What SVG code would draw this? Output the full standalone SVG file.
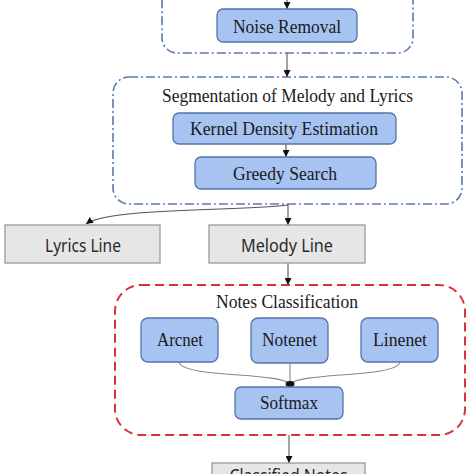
<svg xmlns="http://www.w3.org/2000/svg" width="474" height="474" viewBox="0 0 474 474">
<defs>
<style>
.cb{fill:none;stroke:#5b79ad;stroke-width:1.6;stroke-dasharray:9 3 2 3}
.cr{fill:none;stroke:#d9323f;stroke-width:2;stroke-dasharray:9 5}
.bb{fill:#a7c3f2;stroke:#5673a6;stroke-width:1.3}
.gb{fill:#e6e6e6;stroke:#9a9a9a;stroke-width:1.3}
.st{font-family:"Liberation Serif","Times New Roman",serif;font-size:19.5px;fill:#1a1a1a;text-anchor:middle}
.ss{font-family:"Noto Sans","Liberation Sans",sans-serif;font-size:18px;fill:#2a2a2a;text-anchor:middle}
.ln{fill:none;stroke:#555;stroke-width:1.1}
.lg{fill:none;stroke:#888;stroke-width:1.1}
</style>
<marker id="ah" viewBox="0 0 10 10" refX="10" refY="5" markerWidth="7" markerHeight="7" orient="auto" markerUnits="userSpaceOnUse">
<path d="M0,0 L10,5 L0,10 z" fill="#111"/>
</marker>
</defs>

<g id="containers">
<rect id="preprocess" class="cb" x="162" y="-30" width="251" height="83" rx="15"/>
<rect id="segmentation" class="cb" x="113" y="77" width="349" height="127" rx="16"/>
<rect id="notes-classification" class="cr" x="115" y="285" width="350" height="150" rx="26"/>
</g>

<g id="connectors">
<path class="ln" d="M287,0 V9" marker-end="url(#ah)"/>
<path class="ln" d="M287,53 V77" marker-end="url(#ah)"/>
<path class="ln" d="M286,144 V157" marker-end="url(#ah)"/>
<path class="ln" d="M288,204 V225" marker-end="url(#ah)"/>
<path class="ln" d="M288,205 C250,211 110,207 86,224" marker-end="url(#ah)"/>
<path class="ln" d="M288,263 V285" marker-end="url(#ah)"/>
<path class="lg" d="M179,362 C182,378 280,372 290,384"/>
<path class="lg" d="M290,363 V384"/>
<path class="lg" d="M400,362 C397,378 300,372 290,384"/>
<ellipse cx="290" cy="384" rx="4.5" ry="3" fill="#111"/>
<path class="ln" d="M289,435 V463" marker-end="url(#ah)"/>
</g>

<g id="noise-removal">
<rect class="bb" x="217" y="9" width="140" height="33" rx="6"/>
<text class="st" x="287" y="33" textLength="108" lengthAdjust="spacingAndGlyphs">Noise Removal</text>
</g>

<g id="segmentation-title">
<text class="st" x="287.5" y="102" textLength="251" lengthAdjust="spacingAndGlyphs">Segmentation of Melody and Lyrics</text>
</g>

<g id="kde">
<rect class="bb" x="173" y="113" width="223" height="31" rx="6"/>
<text class="st" x="284" y="135" textLength="188" lengthAdjust="spacingAndGlyphs">Kernel Density Estimation</text>
</g>

<g id="greedy-search">
<rect class="bb" x="195" y="157" width="181" height="32" rx="6"/>
<text class="st" x="285" y="180" textLength="104" lengthAdjust="spacingAndGlyphs">Greedy Search</text>
</g>

<g id="lyrics-line">
<rect class="gb" x="5" y="225" width="155" height="38"/>
<text class="ss" x="83" y="251.5" textLength="76" lengthAdjust="spacingAndGlyphs">Lyrics Line</text>
</g>

<g id="melody-line">
<rect class="gb" x="209" y="225" width="156" height="38"/>
<text class="ss" x="287" y="251.5" textLength="92" lengthAdjust="spacingAndGlyphs">Melody Line</text>
</g>

<g id="notes-title">
<text class="st" x="287" y="308" textLength="142" lengthAdjust="spacingAndGlyphs">Notes Classification</text>
</g>

<g id="arcnet">
<rect class="bb" x="141" y="318" width="77" height="44" rx="7"/>
<text class="st" x="180" y="346" textLength="46" lengthAdjust="spacingAndGlyphs">Arcnet</text>
</g>

<g id="notenet">
<rect class="bb" x="251" y="318" width="77" height="45" rx="7"/>
<text class="st" x="289.5" y="346" textLength="55" lengthAdjust="spacingAndGlyphs">Notenet</text>
</g>

<g id="linenet">
<rect class="bb" x="361" y="318" width="77" height="44" rx="7"/>
<text class="st" x="400" y="346" textLength="54" lengthAdjust="spacingAndGlyphs">Linenet</text>
</g>

<g id="softmax">
<rect class="bb" x="235" y="387" width="108" height="32" rx="6"/>
<text class="st" x="289" y="409" textLength="58" lengthAdjust="spacingAndGlyphs">Softmax</text>
</g>

<g id="classified-notes">
<rect class="gb" x="212" y="463" width="153" height="38"/>
<text class="ss" x="288.5" y="482" textLength="118" lengthAdjust="spacingAndGlyphs">Classified Notes</text>
</g>
</svg>
